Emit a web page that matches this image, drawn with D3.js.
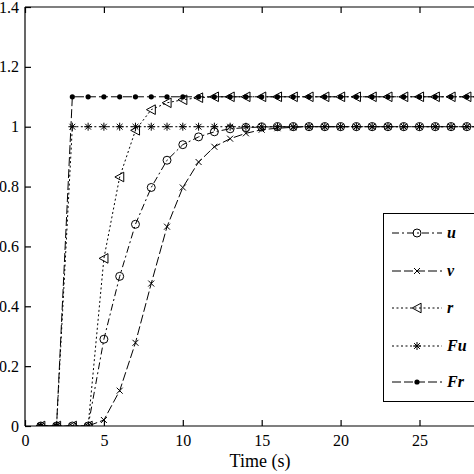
<!DOCTYPE html>
<html>
<head>
<meta charset="utf-8">
<script src="https://cdn.jsdelivr.net/npm/d3@7"></script>
<style>
  html, body { margin: 0; padding: 0; background: #fff; }
  svg { display: block; }
  text { font-family: "Liberation Serif", "Times New Roman", serif; fill: #000; }
</style>
</head>
<body>
<div id="chart"></div>
<script>
// ---- data ----
const time = [1,2,3,4,5,6,7,8,9,10,11,12,13,14,15,16,17,18,19,20,21,22,23,24,25,26,27,28,29,30];
const uVals = [0,0,0,0,0.29,0.50,0.674,0.797,0.888,0.94,0.966,0.983,0.993,0.997,0.999,1,1,1,1,1,1,1,1,1,1,1,1,1,1,1];
const vVals = [0,0,0,0,0.02,0.118,0.278,0.476,0.666,0.797,0.882,0.933,0.96,0.978,0.99,0.995,0.998,1,1,1,1,1,1,1,1,1,1,1,1,1];
const rVals = [0,0,0,0,0.56,0.832,0.988,1.057,1.08,1.09,1.097,1.1,1.1,1.1,1.1,1.1,1.1,1.1,1.1,1.1,1.1,1.1,1.1,1.1,1.1,1.1,1.1,1.1,1.1,1.1];
const fuVals = [0,0,1,1,1,1,1,1,1,1,1,1,1,1,1,1,1,1,1,1,1,1,1,1,1,1,1,1,1,1];
const frVals = [0,0,1.1,1.1,1.1,1.1,1.1,1.1,1.1,1.1,1.1,1.1,1.1,1.1,1.1,1.1,1.1,1.1,1.1,1.1,1.1,1.1,1.1,1.1,1.1,1.1,1.1,1.1,1.1,1.1];
const seriesNames = ["u","v","r","Fu","Fr"];
const xTicks = [0,5,10,15,20,25];
const xTickLabels = ["0","5","10","15","20","25"];
const yTicks = [0,0.2,0.4,0.6,0.8,1,1.2,1.4];
const yTickLabels = ["0","0.2","0.4","0.6","0.8","1","1.2","1.4"];
const xLabel = "Time (s)";

// ---- layout ----
const W = 474, H = 474;
const svg = d3.select("#chart").append("svg").attr("width", W).attr("height", H);
const x = d3.scaleLinear().domain([0, 30]).range([25, 25 + 30 * 15.78]);
const y = d3.scaleLinear().domain([0, 1.4]).range([426, 7]);

const styles = {
  u:  {dash: "7,3,2,3", marker: "circle"},
  v:  {dash: "9,3", marker: "x"},
  r:  {dash: "2,2.5", marker: "triangle"},
  Fu: {dash: "2,2.5", marker: "star"},
  Fr: {dash: "9,3", marker: "dot"}
};
const valuesOf = {u: uVals, v: vVals, r: rVals, Fu: fuVals, Fr: frVals};

function drawMarker(g, type, cx, cy) {
  if (type === "circle") {
    g.append("circle").attr("cx", cx).attr("cy", cy).attr("r", 4)
      .attr("fill", "none").attr("stroke", "#000").attr("stroke-width", 1);
  } else if (type === "x") {
    const s = 3;
    g.append("path").attr("d", `M${cx-s},${cy-s}L${cx+s},${cy+s}M${cx-s},${cy+s}L${cx+s},${cy-s}`)
      .attr("stroke", "#000").attr("stroke-width", 1).attr("fill", "none");
  } else if (type === "triangle") {
    const s = 4.8;
    g.append("path").attr("d", `M${cx-s},${cy}L${cx+s*0.85},${cy-s}L${cx+s*0.85},${cy+s}Z`)
      .attr("stroke", "#000").attr("stroke-width", 1).attr("fill", "none");
  } else if (type === "star") {
    const s = 4, d = 2.9;
    g.append("path").attr("d", `M${cx-s},${cy}L${cx+s},${cy}M${cx},${cy-s}L${cx},${cy+s}M${cx-d},${cy-d}L${cx+d},${cy+d}M${cx-d},${cy+d}L${cx+d},${cy-d}`)
      .attr("stroke", "#000").attr("stroke-width", 1).attr("fill", "none");
  } else if (type === "dot") {
    g.append("circle").attr("cx", cx).attr("cy", cy).attr("r", 2.6).attr("fill", "#000");
  }
}

// ---- plot ----
svg.append("defs").append("clipPath").attr("id", "clip")
  .append("rect").attr("x", 25).attr("y", 7).attr("width", 500).attr("height", 419);

const plot = svg.append("g").attr("clip-path", "url(#clip)");
const line = d3.line().x(d => x(d[0])).y(d => y(d[1]));

seriesNames.forEach(name => {
  const vals = valuesOf[name];
  const pts = time.map((t, i) => [t, vals[i]]);
  const st = styles[name];
  plot.append("path").attr("d", line(pts)).attr("fill", "none")
    .attr("stroke", "#000").attr("stroke-width", 1).attr("stroke-dasharray", st.dash);
  const mg = plot.append("g");
  pts.forEach(p => drawMarker(mg, st.marker, x(p[0]), y(p[1])));
});

// axes
const fontSize = 16;
const axL = svg.append("g").attr("transform", `translate(${x(0)},0)`)
  .call(d3.axisLeft(y).tickValues(yTicks).tickFormat((d, i) => yTickLabels[i]).tickSize(-6).tickPadding(6));
const axB = svg.append("g").attr("transform", `translate(0,${y(0)})`)
  .call(d3.axisBottom(x).tickValues(xTicks).tickFormat((d, i) => xTickLabels[i]).tickSize(-6).tickPadding(9));
const axT = svg.append("g").attr("transform", `translate(0,${y(1.4)})`)
  .call(d3.axisTop(x).tickValues(xTicks).tickFormat("").tickSize(-6));
[axL, axB, axT].forEach(a => {
  a.select(".domain").attr("stroke", "#000").attr("stroke-width", 1.2);
  a.selectAll(".tick line").attr("stroke", "#000").attr("stroke-width", 1.2);
  a.selectAll("text").attr("font-size", fontSize).attr("font-family", '"Liberation Serif", "Times New Roman", serif').attr("fill", "#000");
});
axL.select(".domain").attr("d", `M0,${y(0)}V${y(1.4)}`);
axB.select(".domain").attr("d", `M${x(0)},0H${x(30)}`);
axT.select(".domain").attr("d", `M${x(0)},0H${x(30)}`);

svg.append("text").attr("x", 260).attr("y", 467).attr("text-anchor", "middle")
  .attr("font-size", 18).text(xLabel);

// ---- legend ----
const lg = svg.append("g");
lg.append("rect").attr("x", 383.5).attr("y", 213.5).attr("width", 120).attr("height", 188)
  .attr("fill", "#fff").attr("stroke", "#000").attr("stroke-width", 1);
const legY = [233, 271, 308, 346, 382];
seriesNames.forEach((name, i) => {
  const st = styles[name];
  const ly = legY[i];
  lg.append("line").attr("x1", 392).attr("x2", 442).attr("y1", ly).attr("y2", ly)
    .attr("stroke", "#000").attr("stroke-width", 1).attr("stroke-dasharray", st.dash);
  drawMarker(lg, st.marker, 417, ly);
  lg.append("text").attr("x", 447).attr("y", ly + 5).attr("font-size", 16)
    .attr("font-weight", "bold").attr("font-style", "italic").text(name);
});
</script>
</body>
</html>
